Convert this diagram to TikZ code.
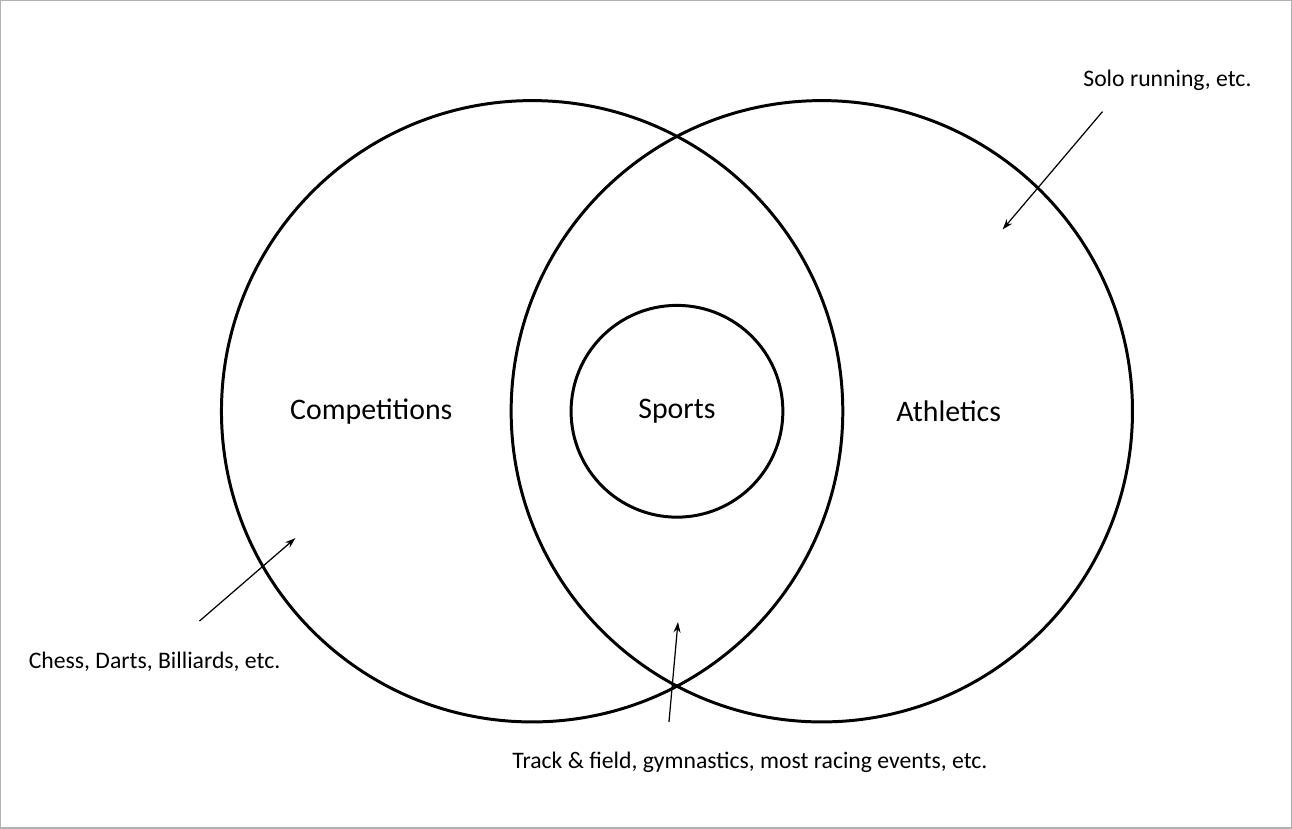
\documentclass[tikz,border=0pt]{standalone}
\usepackage{fontspec}
\setmainfont{Carlito}
\usetikzlibrary{arrows.meta}
\begin{document}
\begin{tikzpicture}[x=0.02cm,y=-0.02cm,
  ring/.style={draw,circle,line width=1.7pt,inner sep=0pt},
  big/.style={font=\fontsize{17}{20}\selectfont},
  small/.style={font=\fontsize{13.5}{16}\selectfont},
  pointer/.style={-{Stealth[length=6pt,width=4pt]},line width=0.7pt}]
\draw[gray!60,line width=0.8pt] (0,0) rectangle (1292,828);
\useasboundingbox (0,0) rectangle (1292,828);
\node[ring,minimum size=622*0.02cm] (comp) at (532,411) {};
\node[ring,minimum size=622*0.02cm] (ath) at (822,411) {};
\node[ring,minimum size=212*0.02cm] (sp) at (677,411) {};
\node[big] (tc) at (371,411) {Competitions};
\node[big] (ts) at (677,411) {Sports};
\node[big] (ta) at (949,411) {Athletics};
\node[small] (solo) at (1168,80) {Solo running, etc.};
\node[small] (chess) at (154,662) {Chess, Darts, Billiards, etc.};
\node[small] (track) at (750,762) {Track \& field, gymnastics, most racing events, etc.};
\coordinate (s1) at (1103,111); \coordinate (s2) at (1003,229);
\coordinate (c1) at (199,621); \coordinate (c2) at (295,538);
\coordinate (t1) at (669,722); \coordinate (t2) at (678,622);
\draw[pointer] (s1) -- (s2);
\draw[pointer] (c1) -- (c2);
\draw[pointer] (t1) -- (t2);
\end{tikzpicture}
\end{document}
